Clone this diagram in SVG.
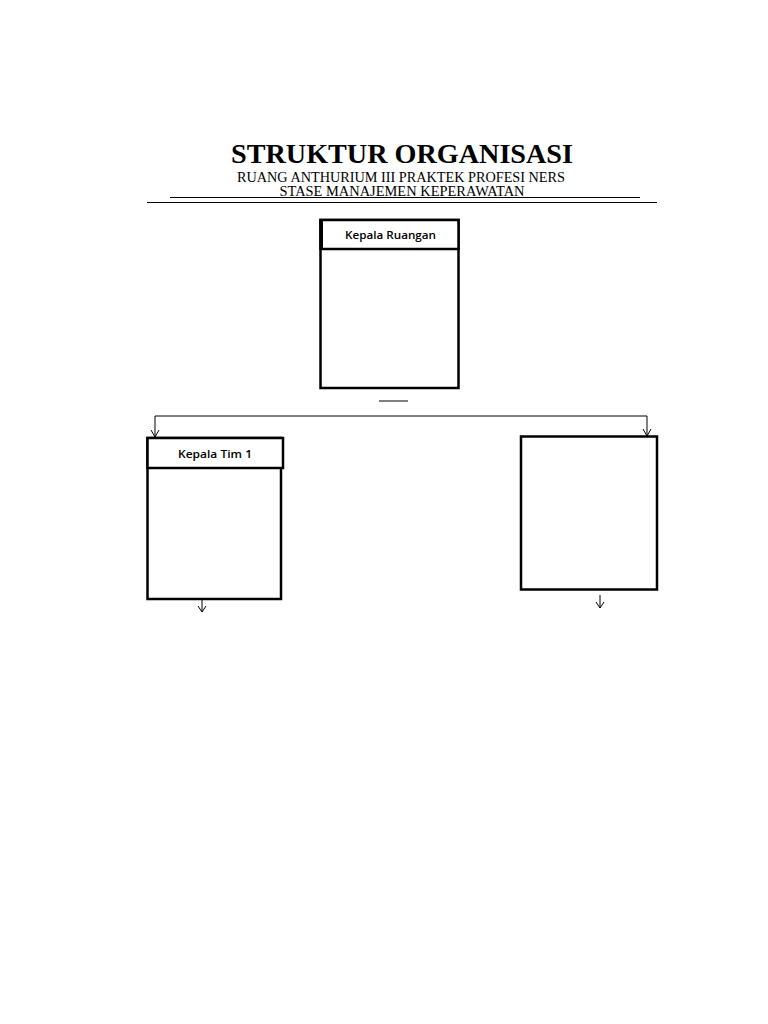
<svg xmlns="http://www.w3.org/2000/svg" width="768" height="1024" viewBox="0 0 768 1024">
<style>
.title{font-family:"Liberation Serif",serif;font-weight:bold;font-size:27px;fill:#000}
.sub{font-family:"Liberation Serif",serif;font-size:14px;fill:#000}
.lbl{font-family:"Open Sans","Noto Sans",sans-serif;font-size:11.5px;fill:#000;font-weight:600}
.box{fill:#fff;stroke:#000;stroke-width:2.5}
.hdr{fill:#fff;stroke:#000;stroke-width:2.5}
.con{fill:none;stroke:#000;stroke-width:1}
.arr{fill:none;stroke:#000;stroke-width:1}
</style>
<rect width="768" height="1024" fill="#fff"/>
<g id="header">
<text class="title" x="402" y="163" text-anchor="middle" textLength="342" lengthAdjust="spacingAndGlyphs">STRUKTUR ORGANISASI</text>
<text class="sub" x="401" y="182" text-anchor="middle" textLength="328" lengthAdjust="spacingAndGlyphs">RUANG ANTHURIUM III PRAKTEK PROFESI NERS</text>
<text class="sub" x="402" y="196" text-anchor="middle" textLength="245" lengthAdjust="spacingAndGlyphs">STASE MANAJEMEN KEPERAWATAN</text>
<line x1="170" y1="197.5" x2="640" y2="197.5" stroke="#000" stroke-width="1"/>
<line x1="147" y1="202.5" x2="657" y2="202.5" stroke="#000" stroke-width="1"/>
</g>
<g id="kepala-ruangan">
<rect class="box" x="320.5" y="220" width="138" height="168"/>
<rect class="hdr" x="320.5" y="220" width="138" height="29"/>
<rect x="320" y="220" width="3" height="29" fill="#000"/>
<text class="lbl" x="390.5" y="239" text-anchor="middle" textLength="91" lengthAdjust="spacingAndGlyphs">Kepala Ruangan</text>
</g>
<g id="kepala-tim-1">
<rect class="box" x="147.5" y="438" width="133.5" height="161" stroke-width="1.8"/>
<rect class="hdr" x="147.5" y="438" width="135.5" height="30"/>
<text class="lbl" x="215" y="457.5" text-anchor="middle" textLength="74" lengthAdjust="spacingAndGlyphs">Kepala Tim 1</text>
</g>
<g id="kepala-tim-2">
<rect class="box" x="521" y="436.5" width="136" height="153"/>
</g>
<g id="connectors">
<line x1="379" y1="401" x2="408" y2="401" stroke="#000" stroke-width="1"/>
<polyline class="con" points="155,437 155,416 647,416 647,436"/>
<polyline class="arr" points="151,430 155,437 159,430"/>
<polyline class="arr" points="643,429 647,436 651,429"/>
<line class="con" x1="202" y1="600" x2="202" y2="612"/>
<polyline class="arr" points="198,606 202,612 206,606"/>
<line class="con" x1="600" y1="595" x2="600" y2="608"/>
<polyline class="arr" points="596,602 600,608 604,602"/>
</g>
</svg>
